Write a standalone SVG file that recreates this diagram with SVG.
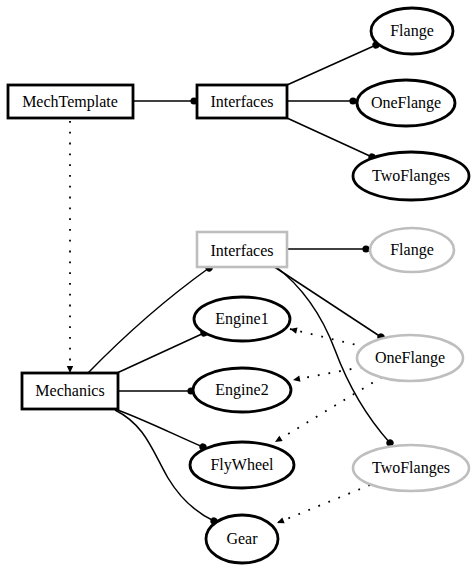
<svg xmlns="http://www.w3.org/2000/svg" width="474" height="567" viewBox="0 0 474 567">
<style>
  .n { fill: #fff; stroke: #000; stroke-width: 2.8; }
  .g { fill: #fff; stroke: #bebebe; stroke-width: 2.6; }
  .t { font-family: "Liberation Serif", "Times New Roman", serif; font-size: 16px; text-anchor: middle; fill: #000; }
  .e { fill: none; stroke: #000; stroke-width: 1.5; }
  .d { fill: none; stroke: #000; stroke-width: 1.8; stroke-dasharray: 1.8 9; }
</style>
<defs>
  <marker id="dot" markerUnits="userSpaceOnUse" viewBox="-4 -4 8 8" refX="0" refY="0" markerWidth="8" markerHeight="8" orient="auto">
    <circle cx="0" cy="0" r="3.6" fill="#000"/>
  </marker>
  <marker id="tri" markerUnits="userSpaceOnUse" viewBox="-8 -4 8 8" refX="0" refY="0" markerWidth="8" markerHeight="8" orient="auto">
    <path d="M-7,-3.2 L0,0 L-7,3.2 Z" fill="#000"/>
  </marker>
</defs>
<g id="connectors">
  <path class="e" d="M133,101 L194,101" marker-end="url(#dot)"/>
  <path class="e" d="M287,85 L376,45" marker-end="url(#dot)"/>
  <path class="e" d="M287,101 L353,101" marker-end="url(#dot)"/>
  <path class="e" d="M287,118 L372,157" marker-end="url(#dot)"/>
  <path class="d" d="M70,121 L70,373" marker-end="url(#tri)"/>
  <path class="e" d="M88,373 C125,335 170,296 209,268" marker-end="url(#dot)"/>
  <path class="e" d="M117,373 L204,333" marker-end="url(#dot)"/>
  <path class="e" d="M118,391 L191,391" marker-end="url(#dot)"/>
  <path class="e" d="M115,409 C145,420 175,435 203,447" marker-end="url(#dot)"/>
  <path class="e" d="M115,410 C145,425 152,450 168,478 C180,498 195,512 214,521" marker-end="url(#dot)"/>
  <path class="e" d="M287,249 L366,249" marker-end="url(#dot)"/>
  <path class="e" d="M273,266 L381,337" marker-end="url(#dot)"/>
  <path class="e" d="M275,266 C300,285 320,310 335,350 C348,385 365,415 390,443" marker-end="url(#dot)"/>
  <path class="d" d="M365,347 L290,329" marker-end="url(#tri)"/>
  <path class="d" d="M362,367 L293,380" marker-end="url(#tri)"/>
  <path class="d" d="M382,377 L275,442" marker-end="url(#tri)"/>
  <path class="d" d="M370,485 L277,523" marker-end="url(#tri)"/>
</g>
<g id="MechTemplate"><rect class="n" x="8" y="85" width="125" height="33"/><text class="t" x="70" y="107">MechTemplate</text></g>
<g id="Interfaces1"><rect class="n" x="197" y="85" width="90" height="33"/><text class="t" x="242" y="107">Interfaces</text></g>
<g id="Flange1"><ellipse class="n" cx="412" cy="31" rx="41" ry="23"/><text class="t" x="412" y="36">Flange</text></g>
<g id="OneFlange1"><ellipse class="n" cx="406" cy="103" rx="49" ry="23"/><text class="t" x="406" y="108">OneFlange</text></g>
<g id="TwoFlanges1"><ellipse class="n" cx="411" cy="176" rx="58" ry="24"/><text class="t" x="411" y="181">TwoFlanges</text></g>
<g id="Interfaces2"><rect class="g" x="197" y="232" width="90" height="35"/><text class="t" x="242" y="256">Interfaces</text></g>
<g id="Flange2"><ellipse class="g" cx="412" cy="250" rx="42" ry="22"/><text class="t" x="412" y="255">Flange</text></g>
<g id="Engine1"><ellipse class="n" cx="242" cy="319" rx="48" ry="22"/><text class="t" x="242" y="324">Engine1</text></g>
<g id="OneFlange2"><ellipse class="g" cx="410" cy="358" rx="53" ry="23"/><text class="t" x="410" y="363">OneFlange</text></g>
<g id="Mechanics"><rect class="n" x="22" y="373" width="96" height="36"/><text class="t" x="70" y="396">Mechanics</text></g>
<g id="Engine2"><ellipse class="n" cx="242" cy="390" rx="49" ry="22"/><text class="t" x="242" y="395">Engine2</text></g>
<g id="FlyWheel"><ellipse class="n" cx="242" cy="465" rx="52" ry="23"/><text class="t" x="242" y="470">FlyWheel</text></g>
<g id="TwoFlanges2"><ellipse class="g" cx="411" cy="468" rx="58" ry="23"/><text class="t" x="411" y="473">TwoFlanges</text></g>
<g id="Gear"><ellipse class="n" cx="242" cy="539" rx="36" ry="24"/><text class="t" x="242" y="544">Gear</text></g>
</svg>
